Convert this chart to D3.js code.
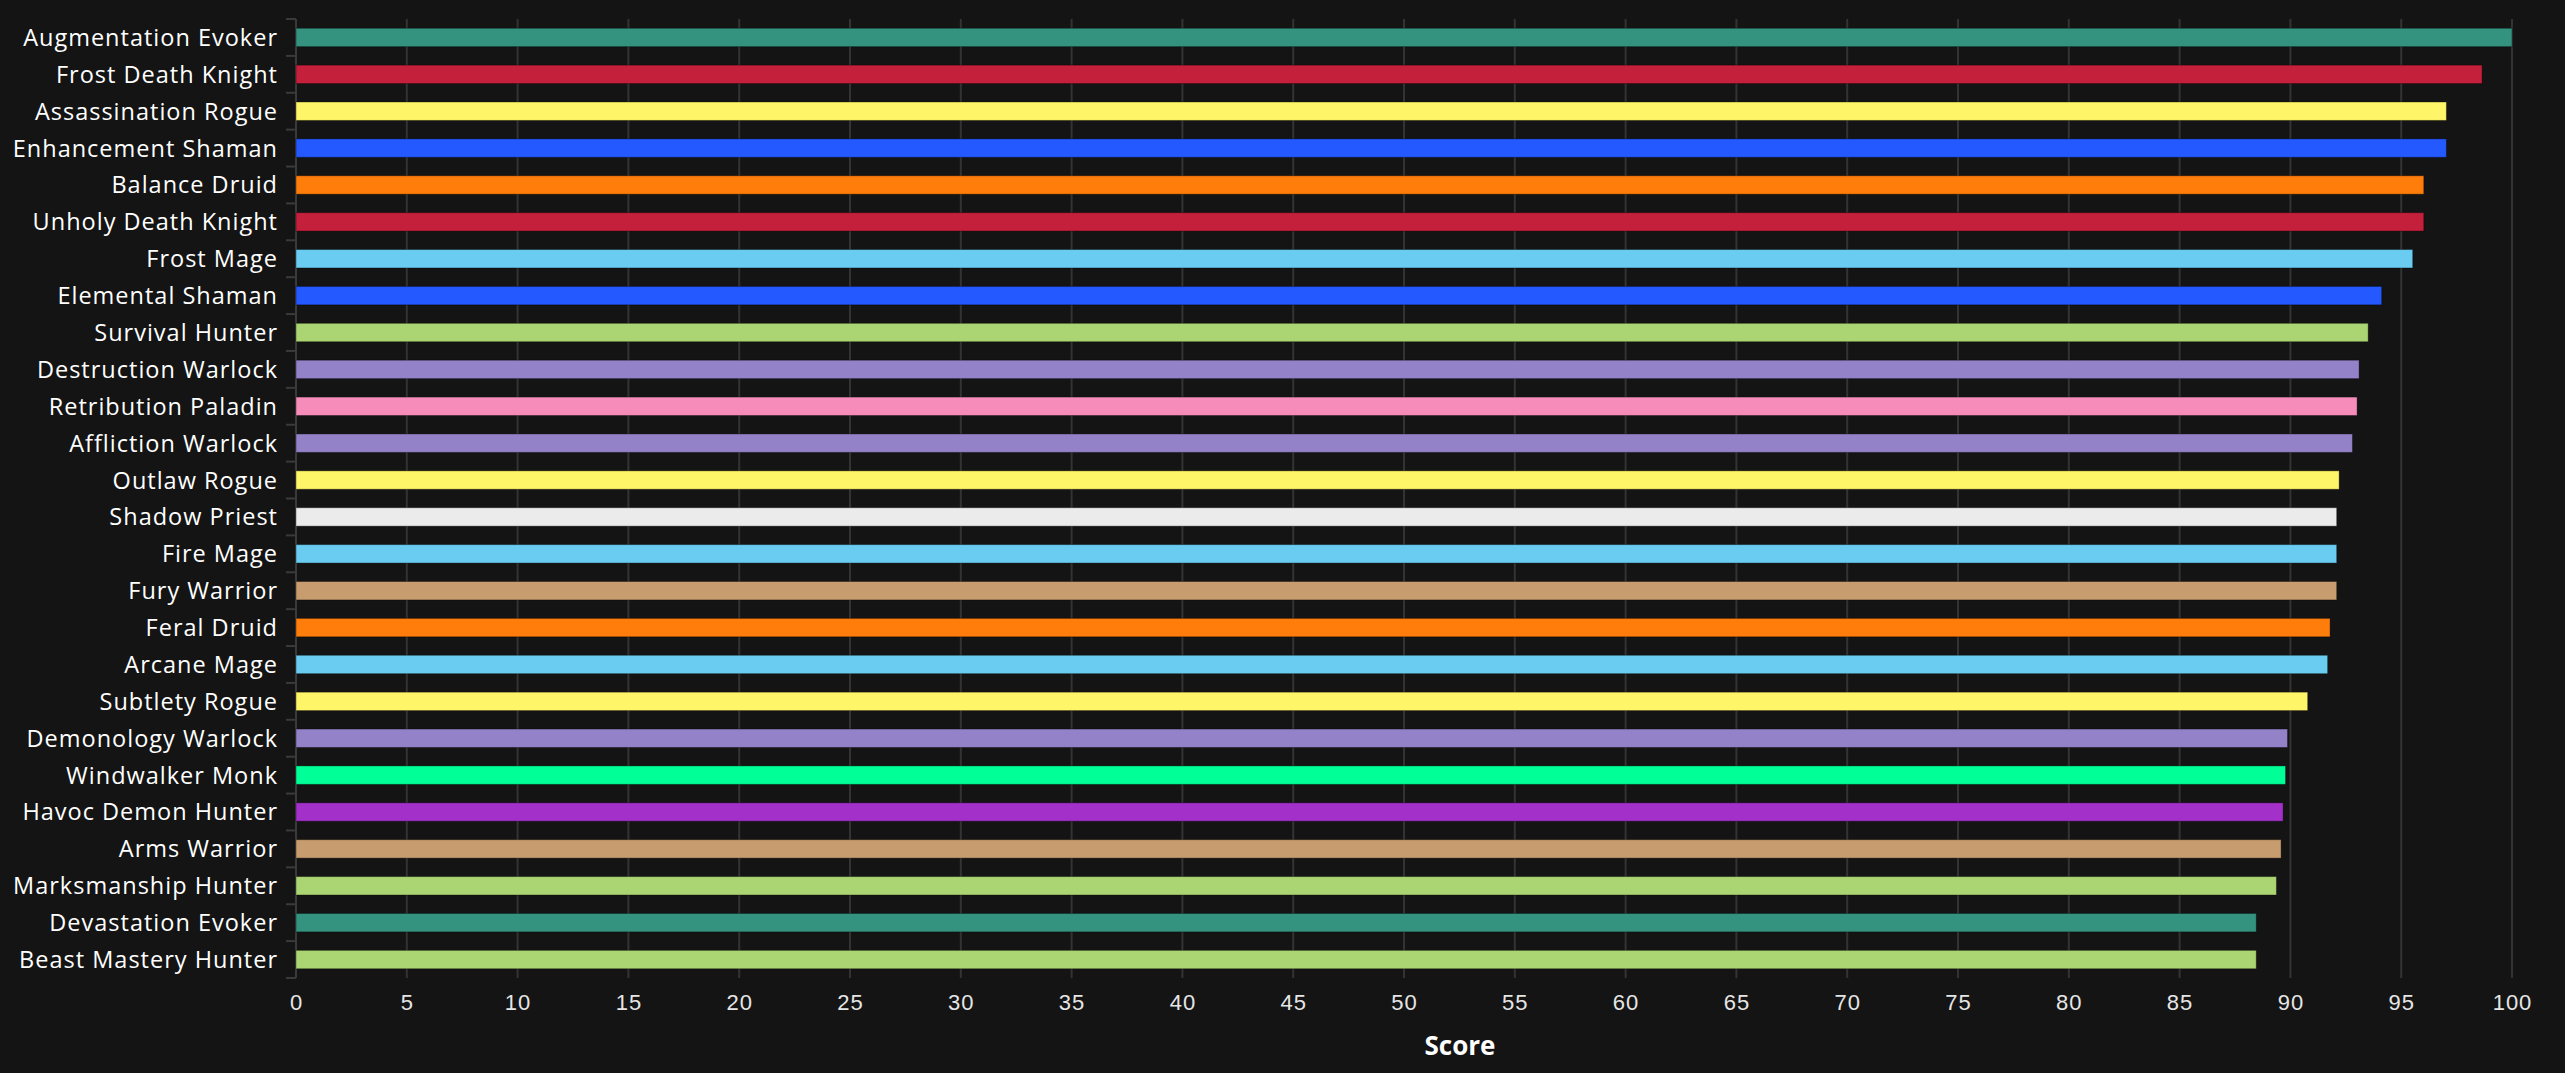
<!DOCTYPE html>
<html>
<head>
<meta charset="utf-8">
<script src="https://cdn.jsdelivr.net/npm/d3@7"></script>
<style>
  html, body { margin: 0; padding: 0; background: #141414; }
  svg { display: block; }
</style>
</head>
<body>
<div id="chart"></div>
<script>
// specs in ranking order
const specs = [
    "Augmentation Evoker", "Frost Death Knight", "Assassination Rogue", "Enhancement Shaman",
    "Balance Druid", "Unholy Death Knight", "Frost Mage", "Elemental Shaman",
    "Survival Hunter", "Destruction Warlock", "Retribution Paladin", "Affliction Warlock",
    "Outlaw Rogue", "Shadow Priest", "Fire Mage", "Fury Warrior",
    "Feral Druid", "Arcane Mage", "Subtlety Rogue", "Demonology Warlock",
    "Windwalker Monk", "Havoc Demon Hunter", "Arms Warrior", "Marksmanship Hunter",
    "Devastation Evoker", "Beast Mastery Hunter"
];

const scores = [
    100, 98.65, 97.04, 97.04,
    96.02, 96.02, 95.52, 94.12,
    93.51, 93.10, 93.01, 92.80,
    92.20, 92.09, 92.09, 92.09,
    91.79, 91.68, 90.78, 89.87,
    89.78, 89.67, 89.58, 89.37,
    88.46, 88.46
];

const classes = [
    "Evoker", "Death Knight", "Rogue", "Shaman",
    "Druid", "Death Knight", "Mage", "Shaman",
    "Hunter", "Warlock", "Paladin", "Warlock",
    "Rogue", "Priest", "Mage", "Warrior",
    "Druid", "Mage", "Rogue", "Warlock",
    "Monk", "Demon Hunter", "Warrior", "Hunter",
    "Evoker", "Hunter"
];

const classNames = ["Evoker", "Death Knight", "Rogue", "Shaman", "Druid", "Mage",
    "Hunter", "Warlock", "Paladin", "Priest", "Warrior", "Monk", "Demon Hunter"];
const classColors = ["#33937f", "#c41f3b", "#fff569", "#2459ff", "#ff7d0a", "#69ccf0",
    "#abd473", "#9482c9", "#f58cba", "#ebebeb", "#c79c6e", "#00ff96", "#a330c9"];

const xTicks = d3.range(0, 101, 5);

const W = 2565, H = 1073;
const margin = { top: 19, right: 53, bottom: 95, left: 296 };
const width = W - margin.left - margin.right,
    height = H - margin.top - margin.bottom;

const color = d3.scaleOrdinal().domain(classNames).range(classColors);

const data = specs.map((s, i) => ({ spec: s, score: scores[i], cls: classes[i] }));

const svg = d3.select("#chart")
    .append("svg")
    .attr("width", W)
    .attr("height", H)
    .style("font-family", "'Open Sans', sans-serif");

svg.append("rect").attr("width", W).attr("height", H).attr("fill", "#141414");

const g = svg.append("g")
    .attr("transform", `translate(${margin.left},${margin.top})`);

const x = d3.scaleLinear().domain([0, 100]).range([0, width]);

const y = d3.scaleBand()
    .domain(specs)
    .range([0, height])
    .paddingInner(0.5)
    .paddingOuter(0.25);

// vertical grid
g.append("g")
    .selectAll("line")
    .data(xTicks.filter(d => d > 0))
    .join("line")
    .attr("x1", d => x(d))
    .attr("x2", d => x(d))
    .attr("y1", 0)
    .attr("y2", height)
    .attr("stroke", "#333333")
    .attr("stroke-width", 2);

// x axis labels
const xAxis = g.append("g")
    .attr("transform", `translate(0,${height})`)
    .call(d3.axisBottom(x).tickValues(xTicks).tickSize(0).tickPadding(16));
xAxis.select(".domain").remove();
xAxis.selectAll("text")
    .attr("fill", "#e6e6e6")
    .style("font-size", "22px")
    .style("letter-spacing", "1px");

// y axis: line plus ticks at category boundaries
g.append("line")
    .attr("x1", 0).attr("x2", 0)
    .attr("y1", 0).attr("y2", height)
    .attr("stroke", "#3a3a3a")
    .attr("stroke-width", 2);

const step = y.step();
g.append("g")
    .selectAll("line")
    .data(d3.range(specs.length + 1))
    .join("line")
    .attr("x1", -10).attr("x2", 0)
    .attr("y1", i => i * step)
    .attr("y2", i => i * step)
    .attr("stroke", "#3a3a3a")
    .attr("stroke-width", 2);

g.append("g")
    .selectAll("text")
    .data(specs)
    .join("text")
    .attr("x", -18)
    .attr("y", d => y(d) + y.bandwidth() / 2)
    .attr("dy", "0.36em")
    .attr("text-anchor", "end")
    .attr("fill", "#ffffff")
    .style("font-size", "23.5px")
    .style("letter-spacing", "1px")
    .text(d => d);

// bars
g.append("g")
    .selectAll("rect")
    .data(data)
    .join("rect")
    .attr("x", x(0))
    .attr("y", d => y(d.spec))
    .attr("width", d => x(d.score) - x(0))
    .attr("height", y.bandwidth())
    .attr("fill", d => color(d.cls))
    .attr("stroke", "rgba(0,0,0,0.35)")
    .attr("stroke-width", 1);

// axis title
svg.append("text")
    .attr("x", 1460)
    .attr("y", 1055)
    .attr("text-anchor", "middle")
    .attr("fill", "#ffffff")
    .style("font-size", "26px")
    .style("font-weight", "bold")
    .text("Score");
</script>
</body>
</html>
